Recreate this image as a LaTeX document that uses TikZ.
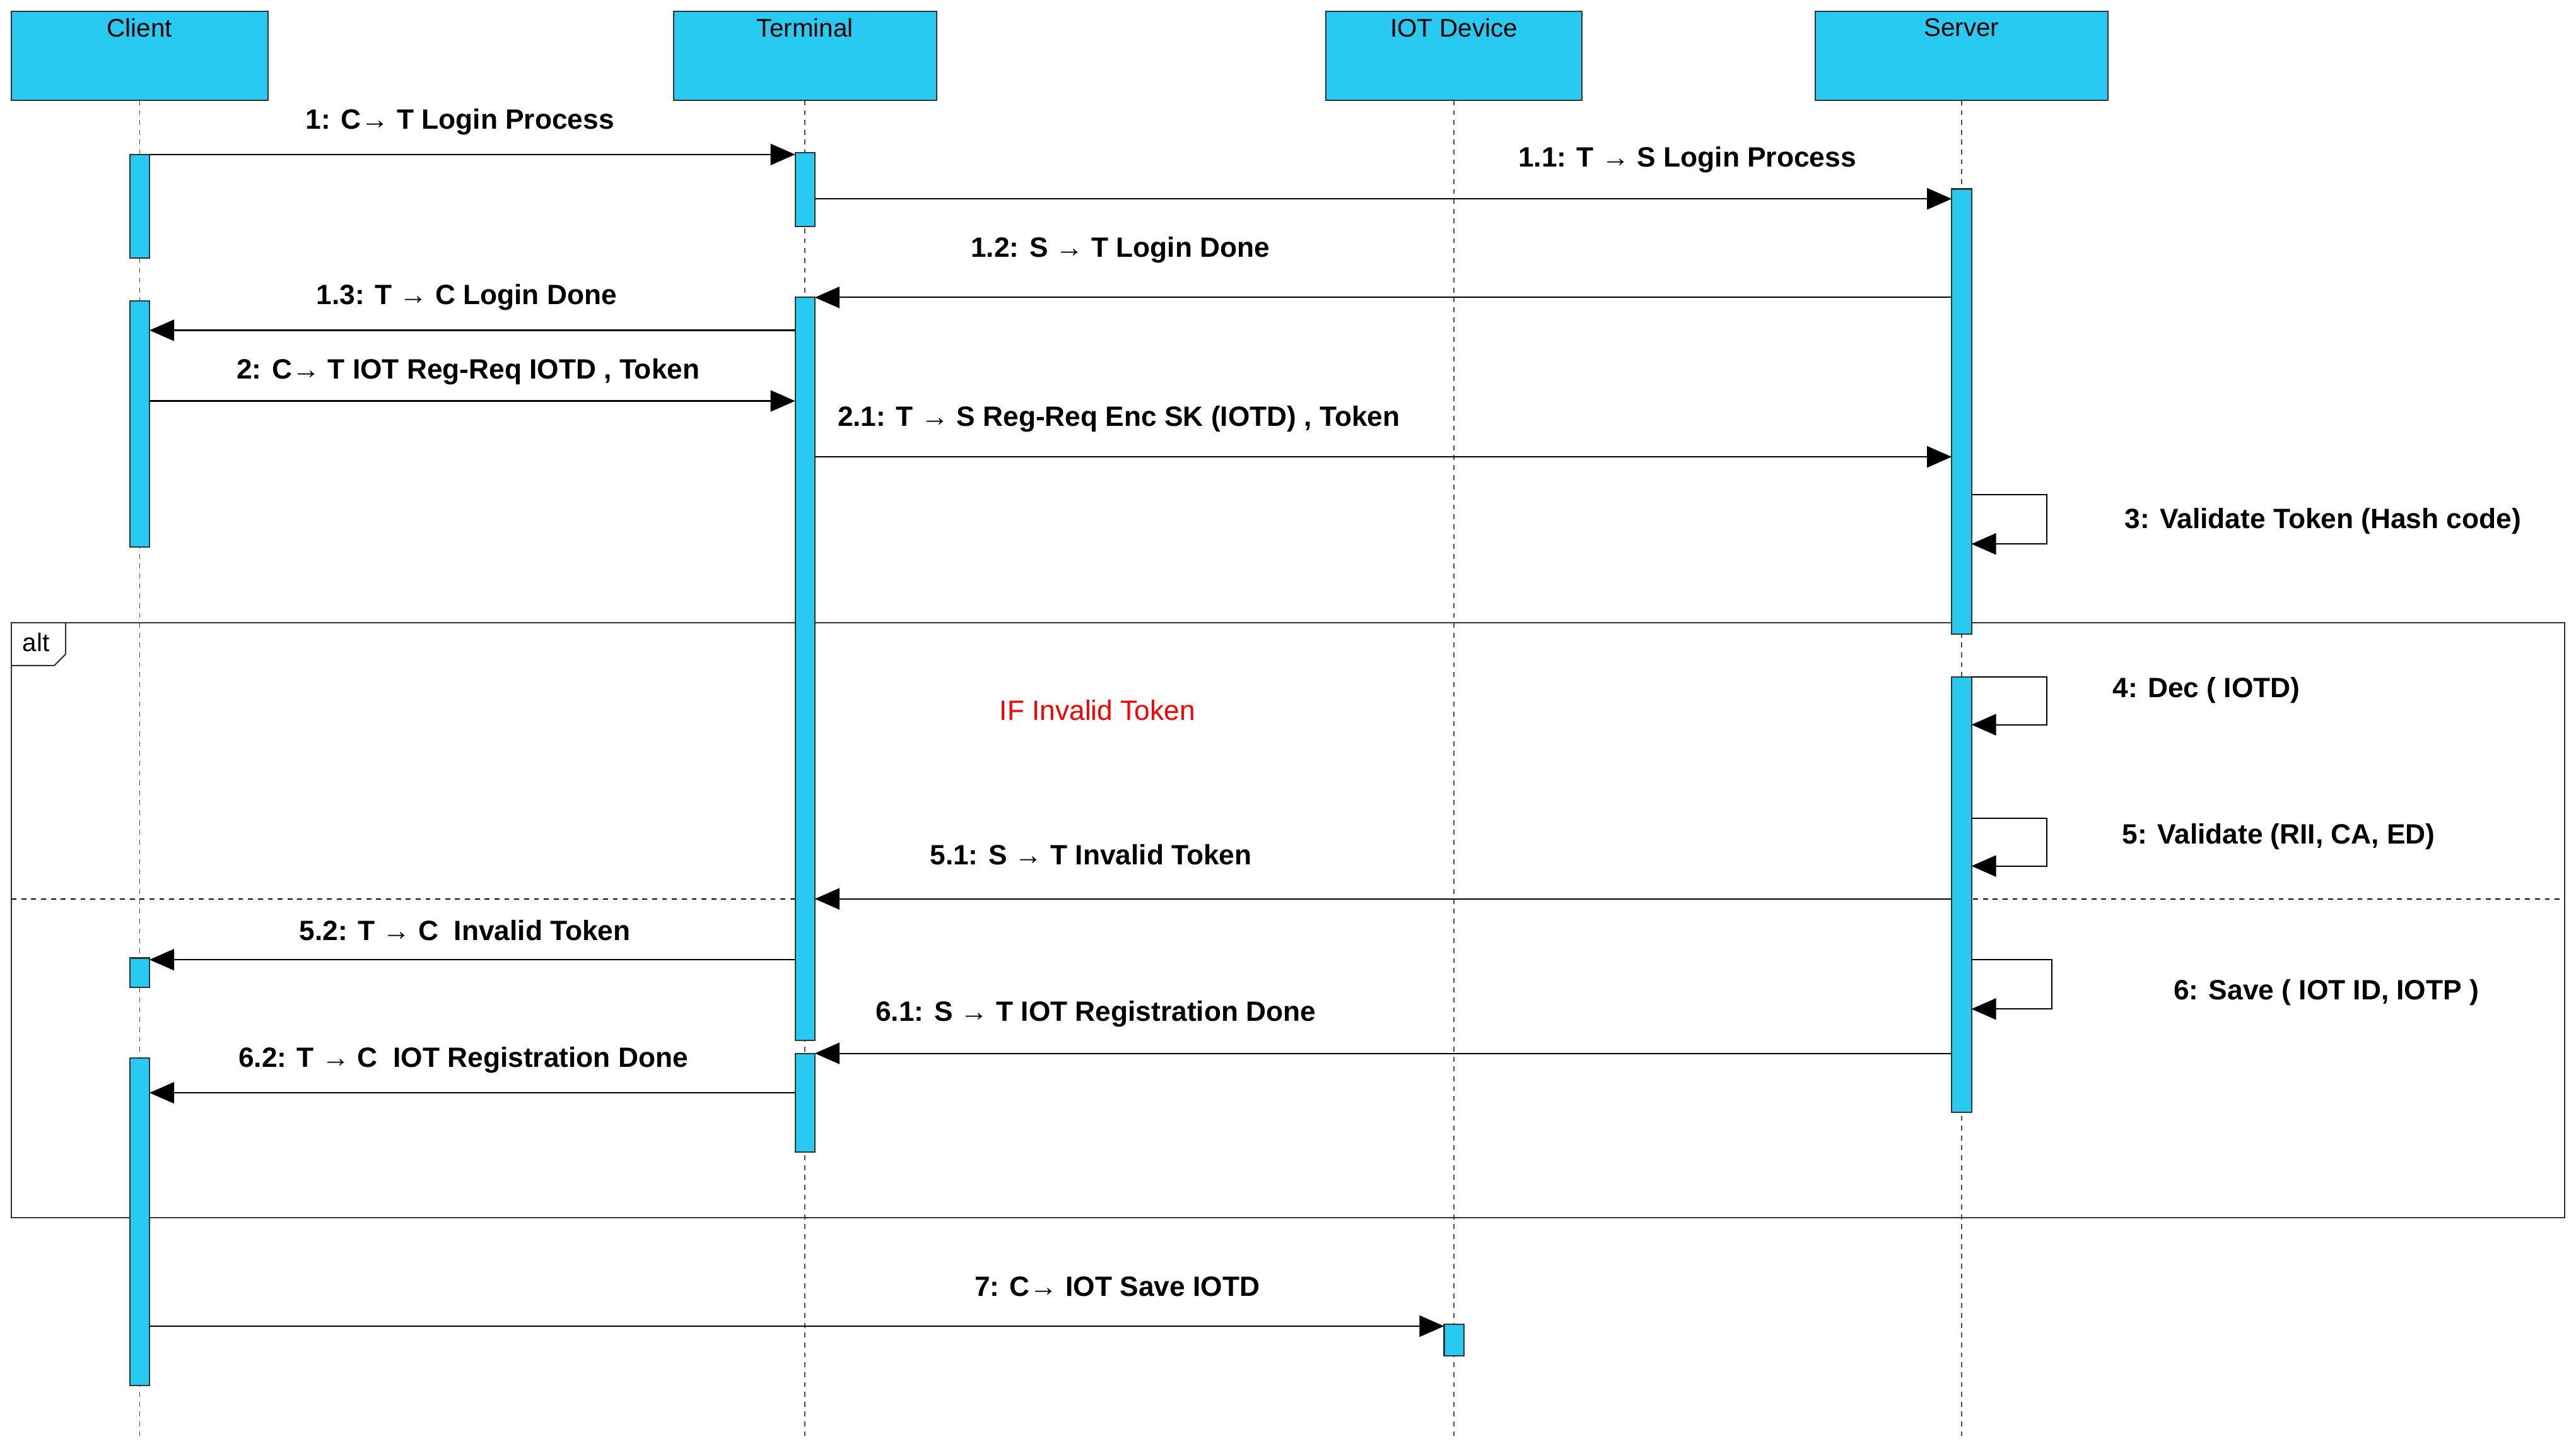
\documentclass[tikz,border=0pt]{standalone}
\usepackage{fontspec}
\setmainfont{Liberation Sans}
\usetikzlibrary{arrows.meta}
\definecolor{act}{RGB}{40,202,242}
\begin{document}
\begin{tikzpicture}[x=1pt,y=-1pt,
  head/.style={draw=black!80,fill=act,line width=0.8pt},
  life/.style={dashed,line width=0.6pt,black!70},
  actv/.style={draw=black!80,fill=act,line width=0.8pt},
  msg/.style={line width=0.8pt,-{Triangle[length=15pt,width=13pt]}},
  lbl/.style={font=\bfseries\fontsize{17}{19}\selectfont},
  htxt/.style={font=\fontsize{15.5}{17}\selectfont}]
\useasboundingbox (0,0) rectangle (1568,884);
% headers
\foreach \n/\a/\b/\t/\c in {cl/7/163/Client/85,te/410/570/Terminal/490,io/807/963/IOT Device/885,se/1105/1283/Server/1194}{
  \draw[life] (\c,61) -- (\c,875);
  \draw[head] (\a,7) rectangle (\b,61);
  \node[htxt,anchor=north,inner sep=0pt] (\n) at (\c,11) {\t};
}
% alt frame
\draw[line width=0.8pt,black!80] (7,379) rectangle (1561,741);
\draw[line width=0.8pt,black!80] (7,405) -- (33,405) -- (40,398) -- (40,379);
\node[htxt] (alt) at (22,391) {alt};
\draw[dashed,line width=0.7pt] (7,547) -- (1561,547);
\node[text=red,font=\fontsize{17}{19}\selectfont] (iftxt) at (668,432) {IF Invalid Token};
% activations
\foreach \n/\x/\a/\b in {c1/85/94/157,c2/85/183/333,c3/85/583/601,c4/85/644/843,
  t1/490/93/138,t2/490/181/633,t3/490/641/701,s1/1194/115/386,s2/1194/412/677,i1/885/806/825}{
  \draw[actv] (\x-6,\a) rectangle (\x+6,\b);
}
% coordinates
\coordinate (m1a) at (91,94);   \coordinate (m1b) at (484,94);
\coordinate (m11a) at (496,121); \coordinate (m11b) at (1188,121);
\coordinate (m12a) at (1188,181); \coordinate (m12b) at (496,181);
\coordinate (m13a) at (484,201); \coordinate (m13b) at (91,201);
\coordinate (m2a) at (91,244);  \coordinate (m2b) at (484,244);
\coordinate (m21a) at (496,278); \coordinate (m21b) at (1188,278);
\coordinate (m51a) at (1188,547); \coordinate (m51b) at (496,547);
\coordinate (m52a) at (484,584); \coordinate (m52b) at (91,584);
\coordinate (m61a) at (1188,641); \coordinate (m61b) at (496,641);
\coordinate (m62a) at (484,665); \coordinate (m62b) at (91,665);
\coordinate (m7a) at (91,807);  \coordinate (m7b) at (879,807);
\foreach \m in {m1,m11,m12,m13,m2,m21,m51,m52,m61,m62,m7}{\draw[msg] (\m a) -- (\m b);}
% self loops
\foreach \n/\a/\b/\r in {l3/301/331/1246,l4/412/441/1246,l5/498/527/1246,l6/584/614/1249}{
  \coordinate (\n a) at (1200,\a); \coordinate (\n b) at (1200,\b);
  \draw[msg] (\n a) -- (\r,\a) -- (\r,\b) -- (\n b);
}
% labels
\node[lbl] (t1) at (280,74) {1: C→ T Login Process};
\node[lbl] (t11) at (1027,97) {1.1: T → S Login Process};
\node[lbl] (t12) at (682,152) {1.2: S → T Login Done};
\node[lbl] (t13) at (284,181) {1.3: T → C Login Done};
\node[lbl] (t2) at (285,226) {2: C→ T IOT Reg-Req IOTD , Token};
\node[lbl] (t21) at (681,255) {2.1: T → S Reg-Req Enc SK (IOTD) , Token};
\node[lbl] (t3) at (1414,317) {3: Validate Token (Hash code)};
\node[lbl] (t4) at (1343,420) {4: Dec ( IOTD)};
\node[lbl] (t5) at (1387,509) {5: Validate (RII, CA, ED)};
\node[lbl] (t51) at (664,520) {5.1: S → T Invalid Token};
\node[lbl] (t52) at (283,566) {5.2: T → C\ \ Invalid Token};
\node[lbl] (t6) at (1416,604) {6: Save ( IOT ID, IOTP )};
\node[lbl] (t61) at (667,617) {6.1: S → T IOT Registration Done};
\node[lbl] (t62) at (282,645) {6.2: T → C\ \ IOT Registration Done};
\node[lbl] (t7) at (680,783) {7: C→ IOT Save IOTD};
\end{tikzpicture}
\end{document}
